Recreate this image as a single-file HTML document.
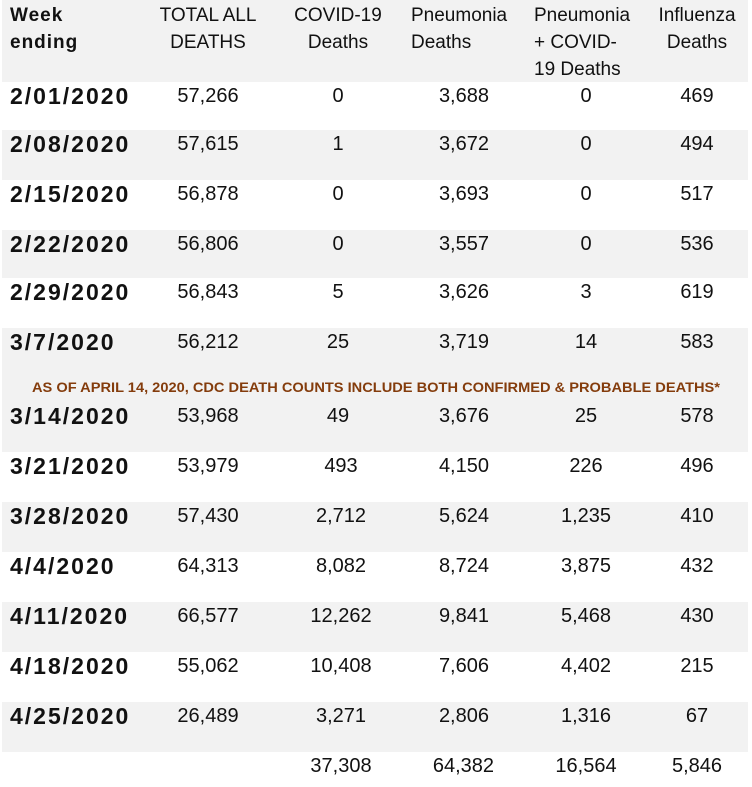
<!DOCTYPE html>
<html><head><meta charset="utf-8">
<style>
body{margin:0;width:752px;height:787px;background:#fff;position:relative;overflow:hidden;font-family:"Liberation Sans",Arial,sans-serif;color:#111}
.band{position:absolute;left:2px;width:746px;background:#f2f2f2}
.t{position:absolute;font-size:20px;line-height:26px;white-space:nowrap}
.c{transform:translateX(-50%)}
.r{transform:translateX(-100%)}
.d{font-weight:bold;font-size:23px;letter-spacing:2px;left:10px}
.h{position:absolute;font-size:19px;line-height:27px;white-space:nowrap}
</style></head><body>
<div class="band" style="top:0;height:82px"></div>
<div class="h" style="left:10px;top:2px;font-weight:bold;letter-spacing:1px">Week<br>ending</div>
<div class="h" style="left:208px;top:2px;transform:translateX(-50%);text-align:center">TOTAL ALL<br>DEATHS</div>
<div class="h" style="left:338px;top:2px;transform:translateX(-50%);text-align:center">COVID-19<br>Deaths</div>
<div class="h" style="left:411px;top:2px">Pneumonia<br>Deaths</div>
<div class="h" style="left:534px;top:2px">Pneumonia<br>+ COVID-<br>19 Deaths</div>
<div class="h" style="left:697px;top:2px;transform:translateX(-50%);text-align:center">Influenza<br>Deaths</div>
<svg style="position:absolute;left:0;top:377px" width="752" height="25"><text x="32" y="15" textLength="688" lengthAdjust="spacingAndGlyphs" font-family="Liberation Sans, Arial, sans-serif" font-weight="bold" font-size="13.5" fill="#843c0c">AS OF APRIL 14, 2020, CDC DEATH COUNTS INCLUDE BOTH CONFIRMED &amp; PROBABLE DEATHS*</text></svg>
<div id="rows"></div>
<script>
const weeks=["2/01/2020","2/08/2020","2/15/2020","2/22/2020","2/29/2020","3/7/2020","3/14/2020","3/21/2020","3/28/2020","4/4/2020","4/11/2020","4/18/2020","4/25/2020",""];
const totalDeaths=["57,266","57,615","56,878","56,806","56,843","56,212","53,968","53,979","57,430","64,313","66,577","55,062","26,489",""];
const covidDeaths=["0","1","0","0","5","25","49","493","2,712","8,082","12,262","10,408","3,271","37,308"];
const pneuDeaths=["3,688","3,672","3,693","3,557","3,626","3,719","3,676","4,150","5,624","8,724","9,841","7,606","2,806","64,382"];
const pneuCovid=["0","0","0","0","3","14","25","226","1,235","3,875","5,468","4,402","1,316","16,564"];
const fluDeaths=["469","494","517","536","619","583","578","496","410","432","430","215","67","5,846"];
const tops=[82,130,180,230,278,328,402,452,502,552,602,652,702,752];
const gray=[false,true,false,true,false,true,true,false,true,false,true,false,true,false];
const host=document.body;
function add(cls,x,y,txt,name){
  const el=document.createElement('div');
  el.className='t '+cls;
  el.style.left=x+'px';el.style.top=y+'px';
  el.textContent=txt;
  
  
  host.appendChild(el);
}
weeks.forEach((w,i)=>{
  const y=tops[i];
  if(gray[i]){
    const b=document.createElement('div');
    b.className='band';b.style.top=y+'px';b.style.height=(i===6?50:(tops[i+1]-y))+'px';
    
    
    host.insertBefore(b,host.firstChild);
  }
  const ty=y+1;
  if(w) add('d',10,ty,w,'week-cell');
  if(totalDeaths[i]) add('c',208,ty,totalDeaths[i],'total-deaths-cell');
  add('c',covidDeaths[i].length<3?338:341,ty,covidDeaths[i],'covid-deaths-cell');
  add('r',489+(i===13?5:0),ty,pneuDeaths[i],'pneumonia-deaths-cell');
  add('c',586,ty,pneuCovid[i],'pneumonia-covid-cell');
  add('c',697,ty,fluDeaths[i],'influenza-deaths-cell');
});
</script>
</body></html>
